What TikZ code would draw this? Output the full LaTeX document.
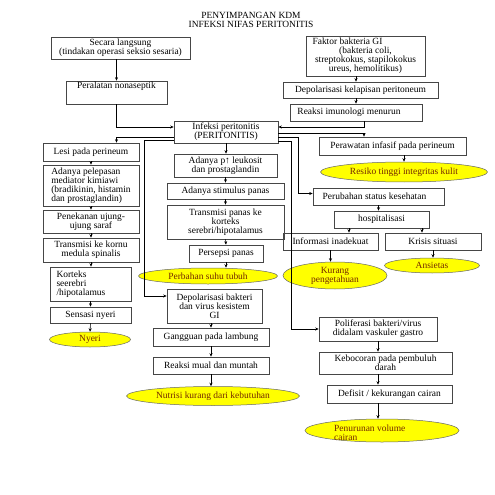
\documentclass[tikz,border=0pt]{standalone}
\usepackage{fontspec}
\setmainfont{Liberation Serif}
\usetikzlibrary{arrows.meta,shapes.geometric,calc}
\definecolor{ellfill}{RGB}{255,255,0}
\definecolor{elltext}{RGB}{115,40,0}
\definecolor{boxline}{RGB}{70,70,70}
\newcommand\fs{\fontsize{9.5}{9}\selectfont}
\tikzset{
  boxst/.style={draw=boxline, line width=0.6bp, inner sep=0pt, align=center, font=\fs},
  ellst/.style={ellipse, draw=black!60, line width=0.5bp, fill=ellfill, inner sep=0pt, align=center, font=\fs, text=elltext},
  arr/.style={draw=black, line width=0.6bp, -{Stealth[length=3.5bp,width=3bp]}},
  ln/.style={draw=black, line width=0.6bp},
  titlest/.style={align=center, font=\fs, inner sep=0pt}
}
\newcommand\bxnode[7][]{%
  \pgfmathsetmacro\bxw{#5-#3}%
  \pgfmathsetmacro\bxh{#6-#4}%
  \node[boxst, minimum width=\bxw bp, minimum height=\bxh bp, #1] (#2) at ({(#3+#5)/2},{(#4+#6)/2}) {#7};}
\begin{document}
\begin{tikzpicture}[x=1bp,y=-1bp]
\fill[white] (0,0) rectangle (495,495);
\useasboundingbox (0,0) rectangle (495,495);

% title
\node[titlest] (title) at (251,20) {PENYIMPANGAN KDM\\INFEKSI NIFAS PERITONITIS};

% top left
\bxnode{sec}{51}{37}{190}{59}{Secara langsung\\(tindakan operasi seksio sesaria)}
\bxnode{per}{66}{81}{167}{104}{Peralatan nonaseptik\\[6bp]\mbox{}}
\bxnode{inf}{174}{121}{278}{143}{Infeksi peritonitis\\(PERITONITIS)}

% left column
\bxnode{lesi}{43}{143}{139}{161}{Lesi pada perineum}
\bxnode[align=left]{adp}{43}{165}{139}{206}{Adanya pelepasan\\mediator kimiawi\\(bradikinin, histamin\\dan prostaglandin)}
\bxnode{pen}{43}{210}{139}{233}{Penekanan ujung-\\ujung saraf}
\bxnode{tkm}{43}{238}{139}{262}{Transmisi ke kornu\\medula spinalis}
\bxnode[align=left, text width=68bp]{kor}{50}{267}{131}{301}{Korteks\\seerebri\\/hipotalamus}
\bxnode{sen}{50}{307}{131}{323}{Sensasi nyeri}
\node[ellst, minimum width=81bp, minimum height=15bp] (nyeri) at (90,339.5) {Nyeri};

% middle column
\bxnode{adl}{174}{154}{277}{177}{Adanya p↑ leukosit\\dan prostaglandin}
\bxnode{sti}{167}{183}{284}{199}{Adanya stimulus panas}
\bxnode{tpn}{167}{205}{284}{239}{Transmisi panas ke\\korteks\\serebri/hipotalamus}
\bxnode{psp}{189}{245}{263}{262}{Persepsi panas}
\node[ellst, minimum width=139bp, minimum height=16bp] (suhu) at (208,276) {Perbahan suhu tubuh};
\bxnode{dbv}{167}{289}{262}{323}{Depolarisasi bakteri\\dan virus kesistem\\GI}
\bxnode{gan}{153}{328}{269}{346}{Gangguan pada lambung}
\bxnode{rmm}{153}{357}{269}{374}{Reaksi mual dan muntah}
\node[ellst, minimum width=173bp, minimum height=19bp] (nut) at (213,396) {Nutrisi kurang dari kebutuhan};

% right column
\bxnode{fak}{306}{36}{425}{76}{Faktor bakteria GI\hspace*{36bp}\\(bakteria coli,\hspace*{10bp}\\streptokokus, stapilokokus\\ureus, hemolitikus)}
\bxnode{dkp}{283}{82}{438}{98}{Depolarisasi kelapisan peritoneum}
\bxnode{rim}{290}{104}{422}{121}{Reaksi imunologi menurun\hspace*{14bp}}
\bxnode{prw}{319}{137}{466}{155}{Perawatan infasif pada perineum}
\node[ellst, minimum width=167bp, minimum height=20bp] (res) at (404,172) {Resiko tinggi integritas kulit};
\bxnode{psk}{313}{188}{444}{205}{Perubahan status kesehatan\hspace*{8bp}}
\bxnode{hos}{334}{211}{429}{228}{hospitalisasi}
\bxnode{inad}{283}{233}{378}{250}{Informasi inadekuat}
\bxnode{kri}{385}{233}{481}{250}{Krisis situasi}
\node[ellst, minimum width=104bp, minimum height=27bp] (kur) at (335,275.5) {Kurang\\pengetahuan};
\node[ellst, minimum width=95bp, minimum height=15bp] (ans) at (432,265.5) {Ansietas};
\bxnode{pol}{319}{317}{437}{341}{Poliferasi bakteri/virus\\didalam vaskuler gastro}
\bxnode{keb}{319}{352}{452}{374}{Kebocoran pada pembuluh\\darah}
\bxnode{def}{327}{385}{452}{403}{Defisit / kekurangan cairan}
\node[ellst, minimum width=154bp, minimum height=23bp] (pnr) at (382,430.5) {};
\node[anchor=north west, inner sep=0pt, align=left, font=\fs, text=elltext] (pnrtext) at (334,425) {Penurunan volume\\cairan};

% helper coordinates
\coordinate (rimR) at ([xshift=8bp]rim.south);
\coordinate (h1) at ([xshift=-32.5bp]hos.south);
\coordinate (h2) at ([xshift=40.5bp]hos.south);

% connectors: top left
\draw[arr] (sec.south -| per.north) -- (per.north);
\draw[arr] (per.south) |- ([yshift=5bp]inf.west);
\draw[arr] ([yshift=-5bp]inf.west) -| (lesi.north -| per.south);
\draw[arr] ([yshift=-8bp]inf.west) -- ++(-29,0) |- ([yshift=10bp]dbv.west);

% left column
\draw[arr] (lesi.south) -- (adp.north);
\draw[arr] (adp.south) -- (pen.north);
\draw[arr] (pen.south) -- (tkm.north);
\draw[arr] (tkm.south) -- (tkm.south |- kor.north);
\draw[arr] (kor.south) -- (sen.north);
\draw[arr] (sen.south) -- (nyeri.north);

% middle column
\draw[arr] (inf.south) -- (inf.south |- adl.north);
\draw[arr] (adl.south) -- (sti.north);
\draw[arr] (sti.south) -- (tpn.north);
\draw[arr] (tpn.south) -- (psp.north);
\draw[arr] (psp.south) -- (psp.south |- suhu.north);
\draw[arr] (dbv.south -| gan.north) -- (gan.north);
\draw[arr] (gan.south) -- (rmm.north);
\draw[arr] (rmm.south) -- (rmm.south |- nut.north);

% right column
\draw[arr] (rim.north |- fak.south) -- (rim.north |- dkp.north);
\draw[arr] (rim.north |- dkp.south) -- (rim.north);
\draw[arr] (rimR) |- ([yshift=5bp]inf.east);
\draw[arr] ([yshift=-1bp]inf.east) -| (rimR |- prw.north);
\draw[arr] (prw.south -| res.north) -- (res.north);
\draw[arr] ([yshift=-5bp]inf.east) -- ++(20,0) |- ([yshift=3bp]psk.west);
\draw[arr] (psk.south) -- (psk.south |- hos.north);
\draw[arr] (h1) -- (h1 |- inad.north);
\draw[arr] (h2) -- (h2 |- kri.north);
\draw[arr] (inad.south) -- (inad.south |- kur.north);
\draw[arr] (kri.south) -- (kri.south |- ans.north);
\draw[arr] ([yshift=-9bp]inf.east) -- ++(13,0) |- (pol.west);
\draw[arr] (pol.south) -- (pol.south |- keb.north);
\draw[arr] (pol.south |- keb.south) -- (pol.south |- def.north);
\draw[arr] (pol.south |- def.south) -- (pol.south |- pnr.north);
\end{tikzpicture}
\end{document}
